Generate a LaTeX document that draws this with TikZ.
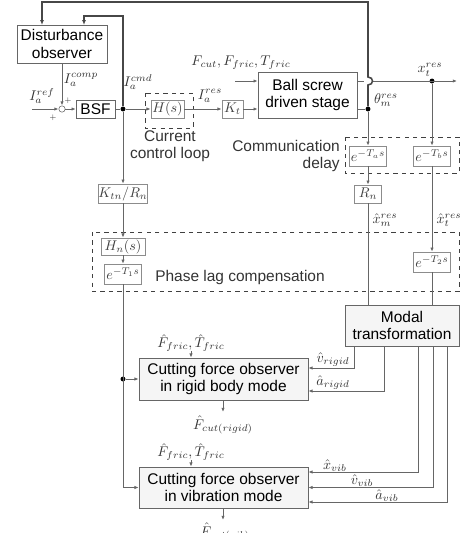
\documentclass[tikz,border=0pt]{standalone}
\usepackage{fontspec}
\setmainfont{Liberation Sans}
\usetikzlibrary{arrows.meta,positioning,calc}

\tikzset{
    line/.style={draw=black!60, line width=0.6pt},
    arr/.style={line, -{Latex[length=3pt,width=2.4pt]}},
    fb/.style={draw=black!72, line width=1.1pt, -{Latex[length=3.5pt,width=2.8pt]}},
    blk/.style={draw=black!45, fill=white, inner sep=0pt, minimum height=12.8pt, text=black!75},
    bigblk/.style={draw=black!60, fill=black!4, inner sep=0pt, align=center, font=\fontsize{11}{12.5}\selectfont},
    dashbox/.style={draw=black!75, dashed, line width=0.7pt},
    dot/.style={circle, fill=black, inner sep=0pt, minimum size=3.5pt},
    lbl/.style={inner sep=0pt, text=black!80}
}

\begin{document}
\begin{tikzpicture}[x=0.025cm, y=-0.025cm]
        \useasboundingbox (0,0) rectangle (474,533);

        % current loop path
        \node[bigblk, fill=white, minimum width=64pt, minimum height=27pt] (dob) at (62,44) {Disturbance\\observer};
        \node[circle, draw=black!60, fill=white, inner sep=0pt, minimum size=4.5pt] (sum) at (62,109) {};
        \node[bigblk, fill=white, minimum width=27.7pt, minimum height=12.8pt] (bsf) at (95.5,109) {BSF};
        \node[dot] (cmd) at (123,109) {};
        \node[blk, minimum width=23.5pt] (hs) at (167.5,109) {$H(s)$};
        \node[blk, minimum width=15pt] (kt) at (232.5,109) {$K_t$};
        \node[bigblk, fill=white, minimum width=70.4pt, minimum height=32.7pt] (stage) at (307.5,95) {Ball screw\\driven stage};
        \node[dot] (thm) at (368,109) {};
        \node[dot] (xt) at (432,81) {};

        \draw[dashbox] (145,93) rectangle (193,128);
        \node[lbl, align=center, font=\fontsize{11}{12.5}\selectfont] (ccl) at (170,146) {Current\\control loop};

        % communication delay
        \node[blk, minimum width=26.3pt, minimum height=14.2pt] (ta) at (368,156) {$e^{-T_a s}$};
        \node[blk, minimum width=26.3pt, minimum height=14.2pt] (tb) at (432,156) {$e^{-T_b s}$};
        \draw[dashbox] (345,137) rectangle (459,173);
        \node[lbl, align=right, anchor=east, font=\fontsize{11}{12.5}\selectfont] (cdl) at (340,156) {Communication\\delay};
        \node[blk, minimum width=19.2pt] (rn) at (368,194) {$R_n$};

        % phase lag compensation
        \node[blk, minimum width=33.4pt, minimum height=13.5pt] (ktn) at (123,193.5) {$K_{tn}/R_n$};
        \node[blk, minimum width=31.3pt, minimum height=12.1pt] (hn) at (123,246.5) {$H_n(s)$};
        \node[blk, minimum width=26.3pt, minimum height=14.2pt] (t1) at (123,274) {$e^{-T_1 s}$};
        \node[blk, minimum width=26.3pt, minimum height=14.2pt] (t2) at (432,262) {$e^{-T_2 s}$};
        \draw[dashbox] (92,232) rectangle (459,291);
        \node[lbl, anchor=west, font=\fontsize{11}{12.5}\selectfont] (plc) at (155,277) {Phase lag compensation};

        % observers
        \node[bigblk, minimum width=81pt, minimum height=29.2pt] (modal) at (402,325.5) {Modal\\transformation};
        \node[bigblk, minimum width=120.2pt, minimum height=29.9pt] (rig) at (223.5,379) {Cutting force observer\\in rigid body mode};
        \node[bigblk, minimum width=120.2pt, minimum height=29.2pt] (vib) at (223.5,487.5) {Cutting force observer\\in vibration mode};
        \node[dot] (br) at (123,379) {};

        % named free ends
        \coordinate (iref) at (32,109);
        \coordinate (fin) at (235,81);
        \coordinate (hopl) at (364,81);
        \coordinate (hopr) at (372,81);
        \coordinate (xout) at (457,81);
        \coordinate (fbtop) at (368,2);
        \coordinate (fb2) at (123,16);
        \coordinate (dobin1) at (42,25);
        \coordinate (dobin2) at (84,25);
        \coordinate (frig) at (191,351);
        \coordinate (fvib) at (191,460);
        \coordinate (orig) at (223,412);
        \coordinate (ovib) at (223,520);
        \foreach \n/\x in {1/354, 2/384, 3/418, 4/433, 5/447}
            \coordinate (mo\n) at (\x,346);

        % forward connectors
        \draw[arr] (iref) -- (sum);
        \draw[arr] (dob) -- (sum);
        \draw[arr] (sum) -- (bsf);
        \draw[line] (bsf) -- (cmd);
        \draw[arr] (cmd) -- (hs);
        \draw[arr] (hs) -- (kt);
        \draw[arr] (kt) -- (kt -| stage.west);
        \draw[arr] (fin) -- (fin -| stage.west);
        \draw[line] (stage.east |- xt) -- (hopl);
        \draw[arr] (hopr) -- (xout);
        \draw[line] (stage.east |- thm) -- (thm);

        % feedback to the disturbance observer
        \draw[fb] (thm) -- (368,85) .. controls (374,85) and (374,77) .. (368,77) -- (fbtop) -| (dobin1);
        \draw[fb] (cmd) -- (fb2) -| (dobin2);

        % measured signals
        \draw[arr] (thm) -- (ta);
        \draw[arr] (ta) -- (rn);
        \draw[line] (rn) -- (rn |- modal.north);
        \draw[arr] (xt) -- (tb);
        \draw[arr] (tb) -- (t2);
        \draw[line] (t2) -- (t2 |- modal.north);

        % current command branch
        \draw[arr] (cmd) -- (ktn);
        \draw[arr] (ktn) -- (hn);
        \draw[arr] (hn) -- (t1);
        \draw[arr] (t1) |- (vib.west);
        \draw[arr] (br) -- (rig.west);

        % modal outputs
        \draw[arr] (mo1) |- ($(rig.east)+(0,-11)$);
        \draw[arr] (mo2) |- ($(rig.east)+(0,12)$);
        \draw[arr] (mo3) |- ($(vib.east)+(0,-15.5)$);
        \draw[arr] (mo4) |- (vib.east);
        \draw[arr] (mo5) |- ($(vib.east)+(0,14.5)$);

        \draw[arr] (frig) -- (frig |- rig.north);
        \draw[arr] (fvib) -- (fvib |- vib.north);
        \draw[arr] (orig |- rig.south) -- (orig);
        \draw[arr] (ovib |- vib.south) -- (ovib);

        % labels
        \node[lbl] (lref) at (42,96) {$I_a^{ref}$};
        \node[lbl] (lcomp) at (81,80) {$I_a^{comp}$};
        \node[lbl] (lcmd) at (138,82) {$I_a^{cmd}$};
        \node[lbl] (lres) at (210,96) {$I_a^{res}$};
        \node[lbl, font=\tiny] (pl1) at (68,101) {$+$};
        \node[lbl, font=\tiny] (pl2) at (53,118) {$+$};
        \node[lbl] (lfin) at (241,63) {$F_{cut},F_{fric},T_{fric}$};
        \node[lbl] (lthm) at (386,100) {$\theta_m^{res}$};
        \node[lbl] (lxt) at (430,70) {$x_t^{res}$};
        \node[lbl] (lxm) at (385,220) {$\hat{x}_m^{res}$};
        \node[lbl] (lxth) at (449,220) {$\hat{x}_t^{res}$};
        \node[lbl] (lvr) at (333,360) {$\hat{v}_{rigid}$};
        \node[lbl] (lar) at (333,383) {$\hat{a}_{rigid}$};
        \node[lbl] (lxv) at (335,466) {$\hat{x}_{vib}$};
        \node[lbl] (lvv) at (362,481) {$\hat{v}_{vib}$};
        \node[lbl] (lav) at (387,496) {$\hat{a}_{vib}$};
        \node[lbl] (lfr) at (191,343) {$\hat{F}_{fric},\hat{T}_{fric}$};
        \node[lbl] (lfv) at (191,452) {$\hat{F}_{fric},\hat{T}_{fric}$};
        \node[lbl] (lor) at (223,425) {$\hat{F}_{cut(rigid)}$};
        \node[lbl] (lov) at (225,532) {$\hat{F}_{cut(vib)}$};
    \end{tikzpicture}
\end{document}
